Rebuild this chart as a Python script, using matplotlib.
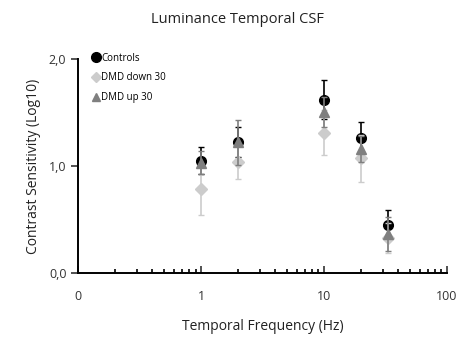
import matplotlib
matplotlib.use("Agg")
import matplotlib.pyplot as plt
from matplotlib.lines import Line2D
from matplotlib.ticker import FixedLocator, LogLocator, NullFormatter

plt.rcParams["font.family"] = ["Open Sans", "DejaVu Sans"]

# data ------------------------------------------------------------------
freq = [1, 2, 10, 20, 33]
ctrl = [1.05, 1.22, 1.62, 1.26, 0.45]
ctrl_err = [0.13, 0.14, 0.18, 0.15, 0.14]
down = [0.78, 1.04, 1.31, 1.07, 0.33]
down_err = [0.24, 0.16, 0.21, 0.22, 0.14]
up = [1.03, 1.22, 1.50, 1.16, 0.36]
up_err = [0.11, 0.21, 0.14, 0.12, 0.16]
xticks = [0.1, 1, 10, 100]
xlabels = ["0", "1", "10", "100"]
yticks = [0.0, 1.0, 2.0]
ylabels = ["0,0", "1,0", "2,0"]

fig = plt.figure(figsize=(4.74, 3.53), dpi=100)
ax = fig.add_axes([0.165, 0.227, 0.778, 0.606])

ax.errorbar(freq, down, yerr=down_err, fmt="D", color="#cccccc", ms=6, capsize=2, elinewidth=1.2, zorder=2)
ax.errorbar(freq, up, yerr=up_err, fmt="^", color="#7f7f7f", ms=7, capsize=2, elinewidth=1.2, zorder=3)
ax.errorbar(freq, ctrl, yerr=ctrl_err, fmt="o", color="black", ms=7, capsize=2, elinewidth=1.2, zorder=1)

ax.set_xscale("log")
ax.set_xlim(0.1, 100)
ax.set_ylim(0, 2)
ax.xaxis.set_major_locator(FixedLocator(xticks))
ax.set_xticklabels(xlabels)
ax.xaxis.set_minor_locator(LogLocator(base=10, subs=range(2, 10)))
ax.xaxis.set_minor_formatter(NullFormatter())
ax.set_yticks(yticks)
ax.set_yticklabels(ylabels)
ax.tick_params(axis="x", which="both", direction="in", labelsize=9, color="black", pad=12)
ax.tick_params(axis="x", which="major", length=5, width=1.2)
ax.tick_params(axis="x", which="minor", length=3, width=1.2)
ax.tick_params(axis="y", direction="out", length=5, width=1.2, labelsize=9, colors="#333333")
ax.tick_params(axis="x", colors="#333333")
for s in ["top", "right"]:
    ax.spines[s].set_visible(False)
for s in ["left", "bottom"]:
    ax.spines[s].set_linewidth(1.4)

ax.set_xlabel("Temporal Frequency (Hz)", fontsize=10, color="#222222", labelpad=12)
ax.set_ylabel("Contrast Sensitivity (Log10)", fontsize=10, color="#222222", labelpad=6)
fig.suptitle("Luminance Temporal CSF", y=0.965, fontsize=10.5, color="#222222")

handles = [
    Line2D([], [], ls="none", marker="o", color="black", ms=7),
    Line2D([], [], ls="none", marker="D", color="#cccccc", ms=5),
    Line2D([], [], ls="none", marker="^", color="#7f7f7f", ms=6),
]
ax.legend(handles, ["Controls", "DMD down 30", "DMD up 30"], loc="upper left", bbox_to_anchor=(0.01, 1.07),
          frameon=False, fontsize=7, handletextpad=0.1, handlelength=1.0, labelspacing=0.9)

fig.savefig("out.png", dpi=100)
